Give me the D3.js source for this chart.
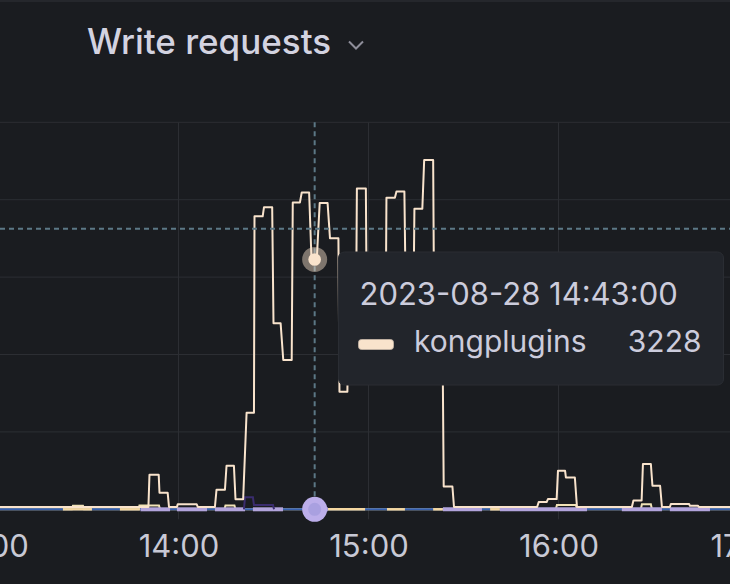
<!DOCTYPE html>
<meta charset="utf-8">
<title>Write requests</title>
<style>
  body { margin: 0; background: #1a1c20; }
  svg { display: block; font-family: Inter, "Noto Sans", sans-serif; }
</style>
<div id="viz"></div>
<script src="https://cdnjs.cloudflare.com/ajax/libs/d3/7.8.5/d3.min.js"></script>
<script>

var width = 730;
var height = 584;

var yTicks = [0, 1000, 2000, 3000, 4000, 5000];
var hourTicks = ["13:00", "14:00", "15:00", "16:00", "17:00"];

// kongplugins write requests [time, value]
var kongplugins = [
  ["12:58:00", 30], ["13:50:30", 30], ["13:50:50", 445], ["13:53:45", 445],
  ["13:54:00", 213], ["13:56:35", 213], ["13:57:00", 30], ["13:59:30", 30],
  ["13:59:45", 65], ["14:05:45", 65], ["14:06:05", 30], ["14:11:30", 30],
  ["14:12:00", 252], ["14:14:40", 252], ["14:15:10", 562], ["14:17:30", 562],
  ["14:18:00", 129], ["14:20:25", 129], ["14:21:30", 1248], ["14:23:50", 1248],
  ["14:24:00", 3785], ["14:26:35", 3785], ["14:27:00", 3904], ["14:29:35", 3904],
  ["14:30:00", 2403], ["14:32:15", 2403], ["14:33:05", 1929], ["14:35:45", 1929],
  ["14:36:05", 3963], ["14:38:20", 3963], ["14:38:55", 4093], ["14:41:15", 4093],
  ["14:42:00", 3228], ["14:43:40", 3228], ["14:44:35", 3956], ["14:47:05", 3956],
  ["14:47:50", 3503], ["14:50:30", 3503], ["14:50:50", 1520], ["14:53:20", 1520],
  ["14:53:40", 2600], ["14:56:05", 2600], ["14:56:20", 4146], ["14:59:10", 4146],
  ["14:59:30", 2200], ["15:02:20", 2200], ["15:02:40", 1800], ["15:05:20", 1800],
  ["15:05:40", 4026], ["15:08:20", 4026], ["15:08:50", 4106], ["15:11:20", 4106],
  ["15:11:50", 2500], ["15:14:10", 2500], ["15:14:30", 3884], ["15:17:00", 3884],
  ["15:17:35", 4513], ["15:20:25", 4513], ["15:20:45", 2400], ["15:23:20", 2400],
  ["15:23:45", 295], ["15:26:30", 295], ["15:27:00", 30], ["15:53:15", 30],
  ["15:53:45", 93], ["15:56:15", 93], ["15:56:40", 132], ["15:59:25", 132],
  ["15:59:50", 497], ["16:02:05", 497], ["16:02:20", 411], ["16:05:10", 411],
  ["16:05:50", 30], ["16:23:10", 30], ["16:23:40", 114], ["16:26:15", 114],
  ["16:26:40", 585], ["16:29:10", 585], ["16:29:40", 304], ["16:32:05", 304],
  ["16:32:40", 30], ["16:35:10", 30], ["16:35:30", 70], ["16:41:15", 70],
  ["16:41:30", 45], ["16:44:05", 45], ["16:44:20", 30], ["17:02:00", 30]
];

// the small series near zero
var yellowSeries = [
  ["12:58:00", 0], ["13:26:20", 0], ["13:26:40", 46], ["13:29:50", 46], ["13:30:10", 0],
  ["13:47:25", 0], ["13:47:40", 50], ["13:53:50", 50], ["13:54:10", 0],
  ["14:14:30", 0], ["14:14:50", 50], ["14:17:40", 50], ["14:18:00", 0],
  ["15:59:10", 0], ["15:59:30", 55], ["16:05:30", 55], ["16:05:50", 0],
  ["16:26:00", 0], ["16:26:20", 65], ["16:29:10", 65], ["16:29:30", 0], ["17:02:00", 0]
];
var purpleSeries = [
  ["14:20:40", 0], ["14:21:00", 155], ["14:23:30", 155], ["14:23:50", 55],
  ["14:29:50", 55], ["14:30:10", 0]
];
var blueSeries = [["12:58:00", 0], ["17:02:00", 0]];
var peachRuns = [
  ["13:23:30", "13:32:40"], ["13:41:30", "13:47:50"], ["14:47:10", "14:58:55"],
  ["15:05:50", "15:11:30"], ["15:20:25", "15:23:30"], ["15:38:25", "15:41:30"]
];
var lavenderRuns = [
  ["13:48:00", "13:57:20"], ["13:59:30", "14:09:00"], ["14:11:30", "14:21:00"],
  ["14:23:30", "14:33:00"], ["14:39:20", "14:47:10"], ["15:23:30", "15:35:50"],
  ["15:41:30", "16:09:00"], ["16:20:00", "16:32:40"], ["16:35:10", "16:47:50"]
];

var hoverTime = "14:43:00";
var hoverValue = 3228;
var cursorValue = 3625;
var tooltipDate = "2023-08-28 14:43:00";
var tooltipName = "kongplugins";

var parse = d3.timeParse("%H:%M:%S");

var x = d3.scaleTime()
  .domain([parse("13:00:00"), parse("17:00:00")])
  .range([-11.5, 748.5]);
var y = d3.scaleLinear()
  .domain([0, 5000])
  .range([509.3, 122.3]);

var svg = d3.select("#viz")
  .append("svg")
  .attr("width", width)
  .attr("height", height);

svg.append("rect")
  .attr("width", width).attr("height", height)
  .attr("fill", "#1a1c20");
svg.append("rect")
  .attr("width", width).attr("height", 2)
  .attr("fill", "#25272c");

// title
svg.append("text")
  .attr("x", 87)
  .attr("y", 54)
  .attr("fill", "#d3d3e0")
  .attr("font-size", 35)
  .attr("font-weight", 500)
  .text("Write requests");
svg.append("path")
  .attr("d", "M349,41.5 L356,48.5 L363,41.5")
  .attr("fill", "none")
  .attr("stroke", "#8e8e9a")
  .attr("stroke-width", 2);

// grid
svg.append("g")
  .selectAll("line")
  .data(yTicks)
  .join("line")
  .attr("x1", 0).attr("x2", width)
  .attr("y1", d => y(d)).attr("y2", d => y(d))
  .attr("stroke", "#2c2e33");
svg.append("g")
  .selectAll("line")
  .data(hourTicks)
  .join("line")
  .attr("x1", d => x(parse(d + ":00"))).attr("x2", d => x(parse(d + ":00")))
  .attr("y1", y(5000)).attr("y2", y(0) + 10)
  .attr("stroke", "#2c2e33");

// x axis labels
var xAxis = svg.append("g")
  .attr("transform", "translate(0,556.5)")
  .call(d3.axisBottom(x)
    .tickValues(hourTicks.map(d => parse(d + ":00")))
    .tickFormat(d3.timeFormat("%H:%M"))
    .tickSize(0)
    .tickPadding(0));
xAxis.select(".domain").remove();
xAxis.selectAll("text")
  .attr("dy", 0)
  .attr("fill", "#c8c9d5")
  .attr("font-size", 31)
  .attr("font-family", "Inter, sans-serif");

var line = d3.line()
  .x(d => x(parse(d[0])))
  .y(d => y(d[1]));

function drawRuns(runs, color, w) {
  svg.append("g")
    .selectAll("path")
    .data(runs)
    .join("path")
    .attr("d", d => line([[d[0], 0], [d[1], 0]]))
    .attr("fill", "none")
    .attr("stroke", color)
    .attr("stroke-width", w);
}

svg.append("path")
  .attr("d", line(yellowSeries))
  .attr("fill", "none")
  .attr("stroke", "#f1e3b6")
  .attr("stroke-width", 2);
svg.append("path")
  .attr("d", line(blueSeries))
  .attr("fill", "none")
  .attr("stroke", "#3660b0")
  .attr("stroke-width", 2);
drawRuns(peachRuns, "#f4d7a1", 2.5);
drawRuns(lavenderRuns, "#b2a4dc", 4);
svg.append("path")
  .attr("d", line(purpleSeries))
  .attr("fill", "none")
  .attr("stroke", "#3a2c6e")
  .attr("stroke-width", 2);
svg.append("path")
  .attr("d", line(kongplugins))
  .attr("fill", "none")
  .attr("stroke", "#f9e3cc")
  .attr("stroke-width", 2)
  .attr("stroke-linejoin", "round");

// crosshair
var hx = x(parse(hoverTime));
svg.append("line")
  .attr("x1", hx).attr("x2", hx)
  .attr("y1", y(5000)).attr("y2", y(0))
  .attr("stroke", "#5c7886")
  .attr("stroke-width", 2)
  .attr("stroke-dasharray", "5,4");
svg.append("line")
  .attr("x1", 0).attr("x2", width)
  .attr("y1", y(cursorValue)).attr("y2", y(cursorValue))
  .attr("stroke", "#5c7886")
  .attr("stroke-width", 2)
  .attr("stroke-dasharray", "5,4");

// hover points
svg.append("circle")
  .attr("cx", hx).attr("cy", y(0)).attr("r", 12.5)
  .attr("fill", "#bcaeea");
svg.append("circle")
  .attr("cx", hx).attr("cy", y(0)).attr("r", 6.5)
  .attr("fill", "#a9a0e0");
svg.append("circle")
  .attr("cx", hx).attr("cy", y(hoverValue)).attr("r", 12.5)
  .attr("fill", "#f9e3cc").attr("fill-opacity", 0.45);
svg.append("circle")
  .attr("cx", hx).attr("cy", y(hoverValue)).attr("r", 6.3)
  .attr("fill", "#f9e3cc");

// tooltip
var tip = svg.append("g").attr("transform", "translate(338.5,252)");
tip.append("rect")
  .attr("width", 385).attr("height", 133).attr("rx", 6)
  .attr("fill", "#22252b")
  .attr("stroke", "#2a2d33");
tip.append("text")
  .attr("x", 21).attr("y", 53)
  .attr("fill", "#ccccdc")
  .attr("font-size", 31)
  .text(tooltipDate);
tip.append("rect")
  .attr("x", 20).attr("y", 87.5).attr("width", 35).attr("height", 10).attr("rx", 3)
  .attr("fill", "#f9e3cc")
  .attr("stroke", "#c8b8a8").attr("stroke-width", 0.8);
tip.append("text")
  .attr("x", 75.5).attr("y", 100)
  .attr("fill", "#ccccdc")
  .attr("font-size", 30)
  .text(tooltipName);
tip.append("text")
  .attr("x", 363).attr("y", 100)
  .attr("text-anchor", "end")
  .attr("fill", "#ccccdc")
  .attr("font-size", 30)
  .text(hoverValue);

</script>
